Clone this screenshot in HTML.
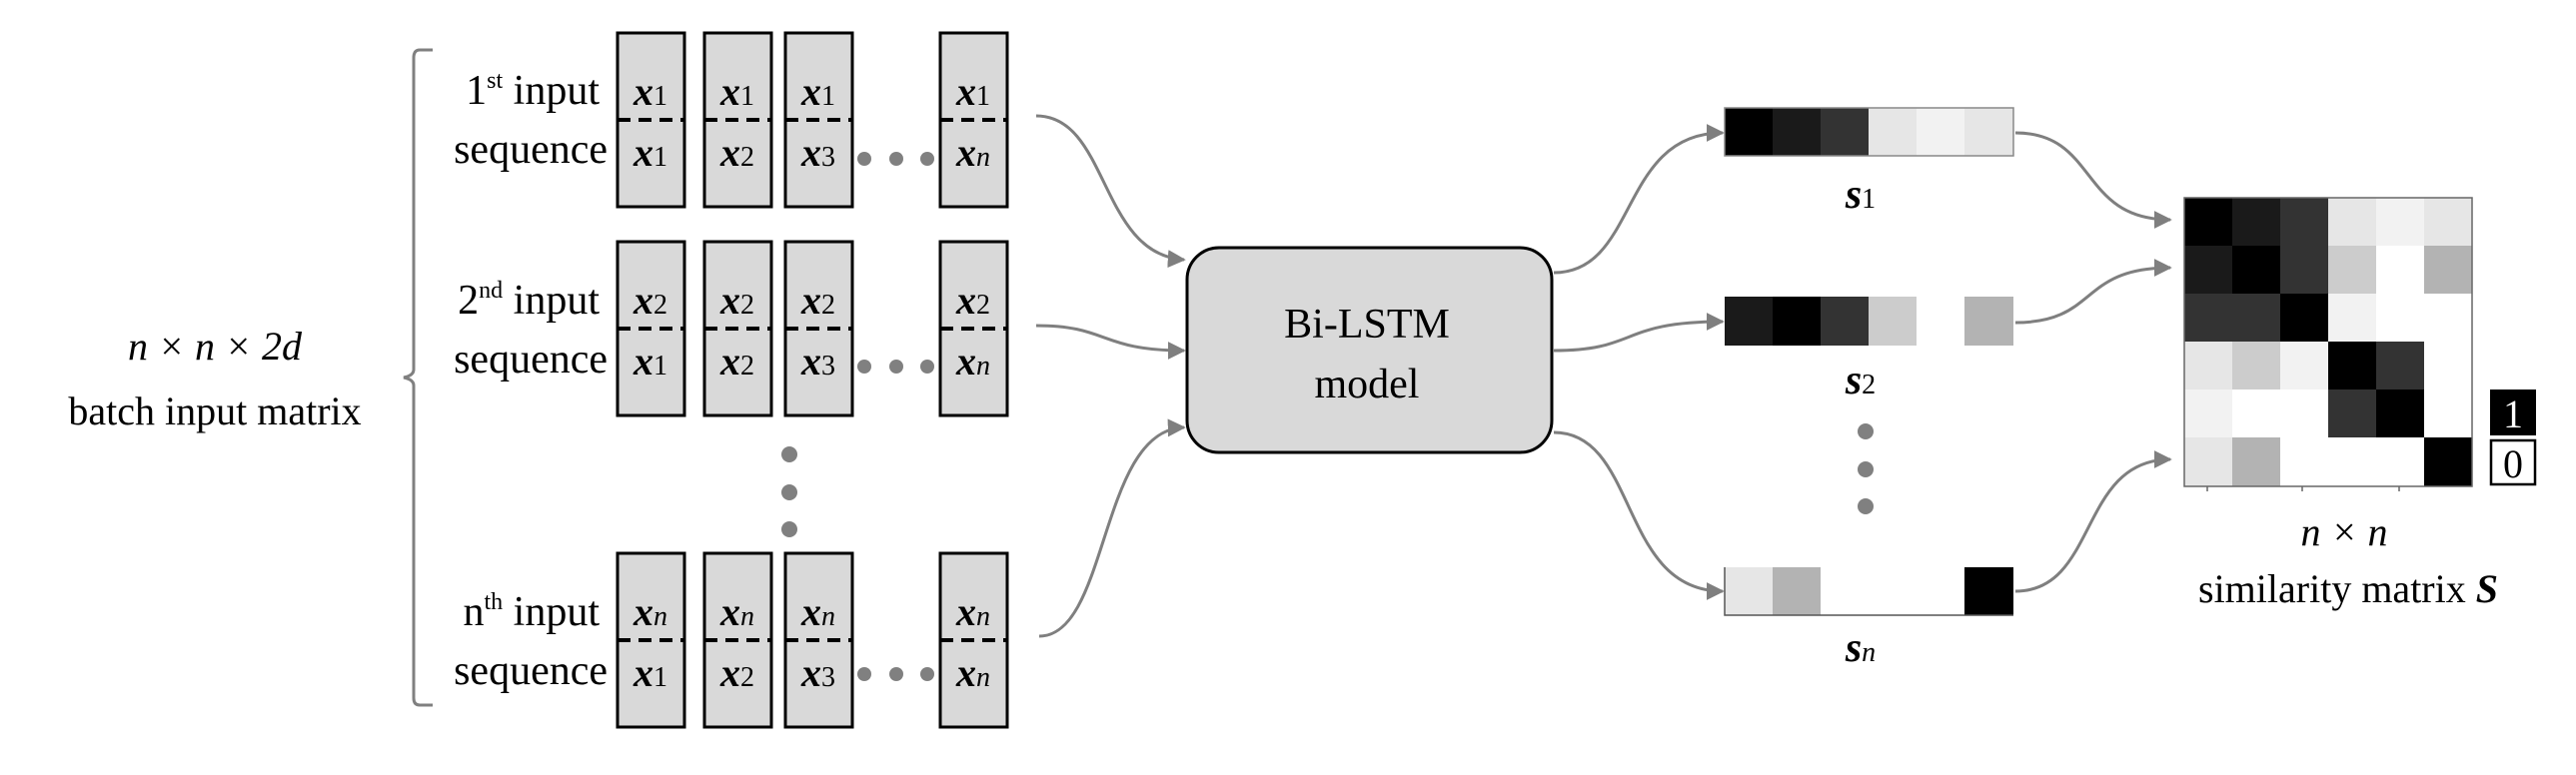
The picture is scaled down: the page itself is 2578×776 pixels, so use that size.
<!DOCTYPE html>
<html><head><meta charset="utf-8"><style>html,body{margin:0;padding:0;background:#fff}svg{display:block}</style></head><body>
<svg width="2578" height="776" viewBox="0 0 2578 776" xmlns="http://www.w3.org/2000/svg" font-family="Liberation Serif, serif">
<defs>
<marker id="ah" markerWidth="8" markerHeight="8" refX="6" refY="4" orient="auto" markerUnits="userSpaceOnUse" viewBox="0 0 8 8">
</marker>
<marker id="a" viewBox="0 0 10 10" refX="9" refY="5" markerWidth="6" markerHeight="6" orient="auto"><path d="M0,0 L10,5 L0,10 z" fill="#7f7f7f"/></marker>
<g id="box"><rect x="0" y="0" width="67" height="174" fill="#d9d9d9" stroke="#000" stroke-width="3"/><line x1="0" y1="87" x2="67" y2="87" stroke="#000" stroke-width="4" stroke-dasharray="13,8"/></g>
</defs>
<!-- left label -->
<text x="215" y="360" font-size="40" text-anchor="middle" font-style="italic">n × n × 2d</text>
<text x="215" y="425" font-size="40" text-anchor="middle">batch input matrix</text>
<path d="M433,50 L420,50 Q414,50 414,58 L414,370 Q414,376 404,378 Q414,380 414,386 L414,699 Q414,706 420,706 L433,706" fill="none" stroke="#808080" stroke-width="3"/>
<!-- row labels -->
<g font-size="42" text-anchor="end">
<text x="600" y="104">1<tspan font-size="24" dy="-16">st</tspan><tspan dy="16"> input</tspan></text>
<text x="608" y="163">sequence</text>
<text x="600" y="314">2<tspan font-size="24" dy="-16">nd</tspan><tspan dy="16"> input</tspan></text>
<text x="608" y="373">sequence</text>
<text x="600" y="626">n<tspan font-size="24" dy="-16">th</tspan><tspan dy="16"> input</tspan></text>
<text x="608" y="685">sequence</text>
</g>
<!-- boxes -->
<g>
<use href="#box" x="618" y="33"/><use href="#box" x="705" y="33"/><use href="#box" x="786" y="33"/><use href="#box" x="941" y="33"/>
<use href="#box" x="618" y="242"/><use href="#box" x="705" y="242"/><use href="#box" x="786" y="242"/><use href="#box" x="941" y="242"/>
<use href="#box" x="618" y="554"/><use href="#box" x="705" y="554"/><use href="#box" x="786" y="554"/><use href="#box" x="941" y="554"/>
</g>
<g font-size="40" font-style="italic" font-weight="bold" text-anchor="middle">
<!-- row1 -->
<text x="651" y="105">x<tspan font-size="28" font-weight="normal" font-style="normal">1</tspan></text>
<text x="738" y="105">x<tspan font-size="28" font-weight="normal" font-style="normal">1</tspan></text>
<text x="819" y="105">x<tspan font-size="28" font-weight="normal" font-style="normal">1</tspan></text>
<text x="974" y="105">x<tspan font-size="28" font-weight="normal" font-style="normal">1</tspan></text>
<text x="651" y="166">x<tspan font-size="28" font-weight="normal" font-style="normal">1</tspan></text>
<text x="738" y="166">x<tspan font-size="28" font-weight="normal" font-style="normal">2</tspan></text>
<text x="819" y="166">x<tspan font-size="28" font-weight="normal" font-style="normal">3</tspan></text>
<text x="974" y="166">x<tspan font-size="28" font-weight="normal">n</tspan></text>
<!-- row2 -->
<text x="651" y="314">x<tspan font-size="28" font-weight="normal" font-style="normal">2</tspan></text>
<text x="738" y="314">x<tspan font-size="28" font-weight="normal" font-style="normal">2</tspan></text>
<text x="819" y="314">x<tspan font-size="28" font-weight="normal" font-style="normal">2</tspan></text>
<text x="974" y="314">x<tspan font-size="28" font-weight="normal" font-style="normal">2</tspan></text>
<text x="651" y="375">x<tspan font-size="28" font-weight="normal" font-style="normal">1</tspan></text>
<text x="738" y="375">x<tspan font-size="28" font-weight="normal" font-style="normal">2</tspan></text>
<text x="819" y="375">x<tspan font-size="28" font-weight="normal" font-style="normal">3</tspan></text>
<text x="974" y="375">x<tspan font-size="28" font-weight="normal">n</tspan></text>
<!-- row3 -->
<text x="651" y="626">x<tspan font-size="28" font-weight="normal">n</tspan></text>
<text x="738" y="626">x<tspan font-size="28" font-weight="normal">n</tspan></text>
<text x="819" y="626">x<tspan font-size="28" font-weight="normal">n</tspan></text>
<text x="974" y="626">x<tspan font-size="28" font-weight="normal">n</tspan></text>
<text x="651" y="687">x<tspan font-size="28" font-weight="normal" font-style="normal">1</tspan></text>
<text x="738" y="687">x<tspan font-size="28" font-weight="normal" font-style="normal">2</tspan></text>
<text x="819" y="687">x<tspan font-size="28" font-weight="normal" font-style="normal">3</tspan></text>
<text x="974" y="687">x<tspan font-size="28" font-weight="normal">n</tspan></text>
</g>
<!-- dots -->
<g fill="#808080">
<circle cx="865" cy="159" r="7"/><circle cx="897" cy="159" r="7"/><circle cx="928" cy="159" r="7"/>
<circle cx="865" cy="367" r="7"/><circle cx="897" cy="367" r="7"/><circle cx="928" cy="367" r="7"/>
<circle cx="865" cy="675" r="7"/><circle cx="897" cy="675" r="7"/><circle cx="928" cy="675" r="7"/>
<circle cx="790" cy="455" r="8"/><circle cx="790" cy="493" r="8"/><circle cx="790" cy="530" r="8"/>
<circle cx="1867" cy="432" r="8"/><circle cx="1867" cy="470" r="8"/><circle cx="1867" cy="507" r="8"/>
</g>
<!-- arrows -->
<g fill="none" stroke="#7f7f7f" stroke-width="3" marker-end="url(#a)">
<path d="M1037,116 C1110,116 1100,255 1185,260"/>
<path d="M1037,326 C1110,326 1100,351 1185,351"/>
<path d="M1040,637 C1110,637 1100,430 1185,428"/>
<path d="M1555,273 C1640,273 1620,133 1724,133"/>
<path d="M1555,351 C1640,351 1620,322 1724,322"/>
<path d="M1555,433 C1640,433 1620,592 1724,592"/>
<path d="M2017,133 C2100,133 2080,220 2172,220"/>
<path d="M2017,323 C2100,323 2080,268 2172,268"/>
<path d="M2017,592 C2100,592 2080,460 2172,460"/>
</g>
<!-- Bi-LSTM -->
<rect x="1188" y="248" width="365" height="205" rx="32" fill="#d9d9d9" stroke="#000" stroke-width="3"/>
<text x="1368" y="338" font-size="42" text-anchor="middle">Bi-LSTM</text>
<text x="1368" y="398" font-size="42" text-anchor="middle">model</text>
<!-- S bars -->
<g stroke="none">
<rect x="1726" y="108" width="48" height="48" fill="#000"/><rect x="1774" y="108" width="48" height="48" fill="#1a1a1a"/><rect x="1822" y="108" width="48" height="48" fill="#333"/><rect x="1870" y="108" width="48" height="48" fill="#e6e6e6"/><rect x="1918" y="108" width="48" height="48" fill="#f2f2f2"/><rect x="1966" y="108" width="49" height="48" fill="#e6e6e6"/>
<rect x="1726" y="297" width="48" height="49" fill="#1a1a1a"/><rect x="1774" y="297" width="48" height="49" fill="#000"/><rect x="1822" y="297" width="48" height="49" fill="#333"/><rect x="1870" y="297" width="48" height="49" fill="#ccc"/><rect x="1966" y="297" width="49" height="49" fill="#b3b3b3"/>
<rect x="1726" y="568" width="48" height="48" fill="#e6e6e6"/><rect x="1774" y="568" width="48" height="48" fill="#b3b3b3"/><rect x="1966" y="568" width="49" height="48" fill="#000"/>
</g>
<rect x="1726" y="108" width="289" height="48" fill="none" stroke="#888" stroke-width="1.5"/>
<path d="M1726,568 V616 H2015" fill="none" stroke="#555" stroke-width="1.5"/>
<g font-size="42" font-weight="bold" font-style="italic" text-anchor="middle">
<text x="1862" y="208">s<tspan font-size="28" font-weight="normal" font-style="normal">1</tspan></text>
<text x="1862" y="394">s<tspan font-size="28" font-weight="normal" font-style="normal">2</tspan></text>
<text x="1862" y="662">s<tspan font-size="28" font-weight="normal">n</tspan></text>
</g>
<!-- matrix -->
<g transform="translate(2186,198)">
<rect x="0" y="0" width="48" height="48" fill="#000"/><rect x="48" y="0" width="48" height="48" fill="#1a1a1a"/><rect x="96" y="0" width="48" height="48" fill="#333"/><rect x="144" y="0" width="48" height="48" fill="#e6e6e6"/><rect x="192" y="0" width="48" height="48" fill="#f2f2f2"/><rect x="240" y="0" width="48" height="48" fill="#e6e6e6"/>
<rect x="0" y="48" width="48" height="48" fill="#1a1a1a"/><rect x="48" y="48" width="48" height="48" fill="#000"/><rect x="96" y="48" width="48" height="48" fill="#333"/><rect x="144" y="48" width="48" height="48" fill="#ccc"/><rect x="240" y="48" width="48" height="48" fill="#b3b3b3"/>
<rect x="0" y="96" width="48" height="48" fill="#333"/><rect x="48" y="96" width="48" height="48" fill="#333"/><rect x="96" y="96" width="48" height="48" fill="#000"/><rect x="144" y="96" width="48" height="48" fill="#f2f2f2"/>
<rect x="0" y="144" width="48" height="48" fill="#e6e6e6"/><rect x="48" y="144" width="48" height="48" fill="#ccc"/><rect x="96" y="144" width="48" height="48" fill="#f2f2f2"/><rect x="144" y="144" width="48" height="48" fill="#000"/><rect x="192" y="144" width="48" height="48" fill="#333"/>
<rect x="0" y="192" width="48" height="48" fill="#f2f2f2"/><rect x="144" y="192" width="48" height="48" fill="#333"/><rect x="192" y="192" width="48" height="48" fill="#000"/>
<rect x="0" y="240" width="48" height="49" fill="#e6e6e6"/><rect x="48" y="240" width="48" height="49" fill="#b3b3b3"/><rect x="240" y="240" width="48" height="49" fill="#000"/>
<rect x="0" y="0" width="288" height="289" fill="none" stroke="#666" stroke-width="1.5"/>
<path d="M23,289 v5 M118,289 v5 M215,289 v5" stroke="#666" stroke-width="1.5"/>
</g>
<rect x="2492" y="390" width="46" height="46" fill="#000"/>
<text x="2515" y="428" font-size="40" fill="#fff" text-anchor="middle">1</text>
<rect x="2493" y="441" width="44" height="44" fill="#fff" stroke="#000" stroke-width="2.5"/>
<text x="2515" y="478" font-size="40" text-anchor="middle">0</text>
<text x="2346" y="546" font-size="40" text-anchor="middle" font-style="italic">n × n</text>
<text x="2350" y="603" font-size="40" text-anchor="middle">similarity matrix <tspan font-weight="bold" font-style="italic">S</tspan></text>
</svg>
</body></html>
